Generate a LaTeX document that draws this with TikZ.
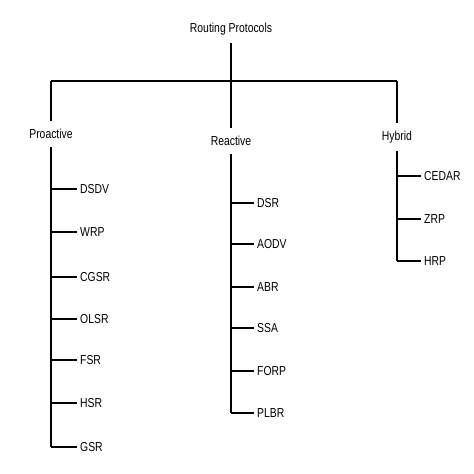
\documentclass[tikz,border=0pt]{standalone}
\usepackage{fontspec}
\setmainfont[FakeStretch=0.8]{Liberation Sans}
\usetikzlibrary{positioning}
\tikzstyle{branch}=[line width=1.4pt, black]
\tikzstyle{group}=[inner xsep=0pt, inner ysep=8pt, font=\fontsize{13}{13}\selectfont]
\tikzstyle{proto}=[anchor=west, inner xsep=3pt, inner ysep=0pt, font=\fontsize{13}{13}\selectfont]

\begin{document}
\begin{tikzpicture}[x=1pt, y=-1pt]
              \useasboundingbox (0,0) rectangle (474,474);
              % top level
              \node[group] (root) at (231,29){Routing Protocols};
              \coordinate (barl) at (51,81);
              \coordinate (barr) at (397,81);
              \node[group] (proactive) at (51,134){Proactive};
              \node[group] (reactive) at (231,141){Reactive};
              \node[group] (hybrid) at (397,137){Hybrid};
              \draw[branch](root) -- (reactive);
              \draw[branch](barl) -- (barr);
              \draw[branch](barl) -- (proactive);
              \draw[branch](barr) -- (hybrid);
              % proactive
              \coordinate (p1) at (51,189);
              \coordinate (p2) at (51,232);
              \coordinate (p3) at (51,277);
              \coordinate (p4) at (51,319);
              \coordinate (p5) at (51,360);
              \coordinate (p6) at (51,403);
              \coordinate (p7) at (51,447);
              \node[proto] (dsdv) at (77,189){DSDV};
              \node[proto] (wrp) at (77,232){WRP};
              \node[proto] (cgsr) at (77,277){CGSR};
              \node[proto] (olsr) at (77,319){OLSR};
              \node[proto] (fsr) at (77,360){FSR};
              \node[proto] (hsr) at (77,403){HSR};
              \node[proto] (gsr) at (77,447){GSR};
              \draw[branch](proactive) -- (p7);
              \draw[branch](p1) -- (dsdv);
              \draw[branch](p2) -- (wrp);
              \draw[branch](p3) -- (cgsr);
              \draw[branch](p4) -- (olsr);
              \draw[branch](p5) -- (fsr);
              \draw[branch](p6) -- (hsr);
              \draw[branch](p7) -- (gsr);
              % reactive
              \coordinate (r1) at (231,203);
              \coordinate (r2) at (231,244);
              \coordinate (r3) at (231,287);
              \coordinate (r4) at (231,328);
              \coordinate (r5) at (231,371);
              \coordinate (r6) at (231,413);
              \node[proto] (dsr) at (254,203){DSR};
              \node[proto] (aodv) at (254,244){AODV};
              \node[proto] (abr) at (254,287){ABR};
              \node[proto] (ssa) at (254,328){SSA};
              \node[proto] (forp) at (254,371){FORP};
              \node[proto] (plbr) at (254,413){PLBR};
              \draw[branch](reactive) -- (r6);
              \draw[branch](r1) -- (dsr);
              \draw[branch](r2) -- (aodv);
              \draw[branch](r3) -- (abr);
              \draw[branch](r4) -- (ssa);
              \draw[branch](r5) -- (forp);
              \draw[branch](r6) -- (plbr);
              % hybrid
              \coordinate (h1) at (397,176);
              \coordinate (h2) at (397,219);
              \coordinate (h3) at (397,261);
              \node[proto] (cedar) at (421,176){CEDAR};
              \node[proto] (zrp) at (421,219){ZRP};
              \node[proto] (hrp) at (421,261){HRP};
              \draw[branch](hybrid) -- (h3);
              \draw[branch](h1) -- (cedar);
              \draw[branch](h2) -- (zrp);
              \draw[branch](h3) -- (hrp);
            \end{tikzpicture}
\end{document}
